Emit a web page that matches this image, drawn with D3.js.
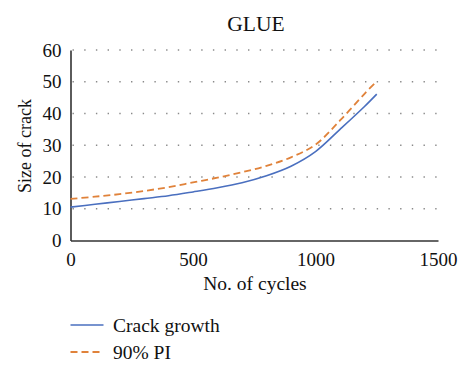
<!DOCTYPE html>
<html>
<head>
<meta charset="utf-8">
<script src="https://cdn.jsdelivr.net/npm/d3@7"></script>
<style>
  body { margin: 0; background: #fff; }
</style>
</head>
<body>
<div id="chart"></div>
<script>
// crack size vs cycles, GLUE
const cycles    = [0, 100, 200, 300, 400, 500, 600, 700, 800, 900, 1000, 1100, 1200, 1250];
const crack     = [10.5, 11.4, 12.3, 13.2, 14.1, 15.3, 16.6, 18.2, 20.4, 23.4, 28.0, 35.0, 42.2, 46.1];
const pi90      = [13.1, 13.8, 14.6, 15.6, 16.8, 18.3, 19.8, 21.5, 23.5, 26.2, 30.2, 37.8, 46.2, 50.2];
const xTicks    = [0, 500, 1000, 1500];
const yTicks    = [0, 10, 20, 30, 40, 50, 60];
const seriesNames = ["Crack growth", "90% PI"];

const W = 474, H = 375;
const m = {left: 70.5, right: 36, top: 50, bottom: 134.5};
const serif = "Liberation Serif";

const svg = d3.select("#chart").append("svg").attr("width", W).attr("height", H);

const x = d3.scaleLinear().domain([0, 1500]).range([m.left, W - m.right]);
const y = d3.scaleLinear().domain([0, 60]).range([H - m.bottom, m.top]);

// gridlines
svg.append("g").selectAll("line").data(yTicks.filter(d => d > 0)).join("line")
  .attr("x1", x(0) + 2).attr("x2", x(1500))
  .attr("y1", d => y(d)).attr("y2", d => y(d))
  .attr("stroke", "#8a8a8a").attr("stroke-width", 1.6)
  .attr("stroke-dasharray", "1.4 10.3").attr("stroke-linecap", "butt");

// axes
const xAxis = svg.append("g").attr("transform", `translate(0,${y(0)})`)
  .call(d3.axisBottom(x).tickValues(xTicks).tickFormat(d3.format("d")).tickSize(0).tickPadding(12));
const yAxis = svg.append("g").attr("transform", `translate(${x(0)},0)`)
  .call(d3.axisLeft(y).tickValues(yTicks).tickSize(0).tickPadding(9));
[xAxis, yAxis].forEach(a => {
  a.attr("font-family", serif).attr("font-size", 19);
  a.select(".domain").attr("stroke", "#333").attr("stroke-width", 1.6);
  a.selectAll("text").attr("fill", "#111").attr("font-family", serif);
});

// lines
const pts = ys => cycles.map((c, i) => [c, ys[i]]);
const line = d3.line().x(d => x(d[0])).y(d => y(d[1])).curve(d3.curveCatmullRom.alpha(0.5));

svg.append("path").datum(pts(crack)).attr("d", line)
  .attr("fill", "none").attr("stroke", "#4a6fbf").attr("stroke-width", 1.6);
svg.append("path").datum(pts(pi90)).attr("d", line)
  .attr("fill", "none").attr("stroke", "#e0823a").attr("stroke-width", 1.8)
  .attr("stroke-dasharray", "7 4");

// title + axis labels
const txt = (sx, sy, size, s) => svg.append("text").attr("x", sx).attr("y", sy)
  .attr("font-family", serif).attr("font-size", size).attr("fill", "#111").text(s);

txt(256, 30.5, 21.5, "GLUE").attr("text-anchor", "middle");
txt(255, 290, 19.5, "No. of cycles").attr("text-anchor", "middle");
txt(0, 0, 18, "Size of crack").attr("text-anchor", "middle")
  .attr("transform", "translate(31,146) rotate(-90)");

// legend
seriesNames.forEach((name, i) => {
  const ly = 325 + i * 27;
  svg.append("line").attr("x1", 70.5).attr("x2", 103.5).attr("y1", ly).attr("y2", ly)
    .attr("stroke", i ? "#e0823a" : "#4a6fbf").attr("stroke-width", i ? 1.8 : 1.6)
    .attr("stroke-dasharray", i ? "7 4" : null);
  txt(113, ly + 7, 19.5, name);
});
</script>
</body>
</html>
